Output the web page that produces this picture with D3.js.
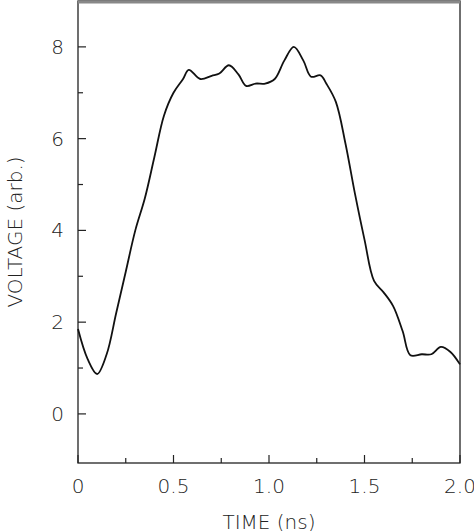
<!DOCTYPE html>
<html><head><meta charset="utf-8">
<script src="https://cdn.jsdelivr.net/npm/d3@7"></script>
<style>body{margin:0;background:#fff}text{font-family:"DejaVu Sans",sans-serif;font-weight:200;fill:#222}</style>
</head><body><svg id="c" width="474" height="531"></svg>
<script>
const timeNs=[0,0.05,0.1,0.15,0.2,0.25,0.3,0.35,0.4,0.45,0.5,0.55,0.58,0.64,0.7,0.74,0.79,0.84,0.88,0.93,0.98,1.03,1.08,1.13,1.18,1.22,1.27,1.3,1.35,1.4,1.45,1.5,1.55,1.6,1.65,1.7,1.74,1.8,1.85,1.9,1.95,2.0];
const voltage=[1.85,1.2,0.87,1.3,2.2,3.1,4.0,4.7,5.6,6.5,7.0,7.3,7.5,7.3,7.37,7.42,7.6,7.4,7.15,7.2,7.2,7.3,7.7,8.0,7.7,7.35,7.38,7.2,6.8,5.9,4.8,3.8,2.9,2.65,2.35,1.8,1.28,1.3,1.3,1.46,1.35,1.08];
const xMajor=[0,0.5,1.0,1.5,2.0], xMinor=[0.25,0.75,1.25,1.75];
const yMajor=[0,2,4,6,8], yMinor=[1,3,5,7];
const svg=d3.select("#c");
const L=78,R=460,T=1,B=463;
const x=d3.scaleLinear().domain([0,2]).range([L,R]);
const y=d3.scaleLinear().domain([-1.07,9.0]).range([B,T]);
svg.append("rect").attr("x",L).attr("y",T).attr("width",R-L).attr("height",B-T).attr("fill","none").attr("stroke","#222").attr("stroke-width",1.3);
svg.append("line").attr("x1",L).attr("x2",R).attr("y1",T+1).attr("y2",T+1).attr("stroke","#888").attr("stroke-width",3);
const g=svg.append("g");
xMajor.forEach(v=>g.append("line").attr("x1",x(v)).attr("x2",x(v)).attr("y1",B).attr("y2",B-8).attr("stroke","#222").attr("stroke-width",1.2));
xMinor.forEach(v=>g.append("line").attr("x1",x(v)).attr("x2",x(v)).attr("y1",B).attr("y2",B-5).attr("stroke","#222").attr("stroke-width",1.2));
yMajor.forEach(v=>g.append("line").attr("x1",L).attr("x2",L+8).attr("y1",y(v)).attr("y2",y(v)).attr("stroke","#222").attr("stroke-width",1.2));
yMinor.forEach(v=>g.append("line").attr("x1",L).attr("x2",L+5).attr("y1",y(v)).attr("y2",y(v)).attr("stroke","#222").attr("stroke-width",1.2));
xMajor.forEach(v=>g.append("text").attr("x",x(v)).attr("y",B+30).attr("text-anchor","middle").attr("font-size",20).text(v===0?"0":v.toFixed(1)));
yMajor.forEach(v=>g.append("text").attr("x",L-14).attr("y",y(v)+7).attr("text-anchor","end").attr("font-size",20).text(v));
svg.append("text").attr("x",269).attr("y",529).attr("text-anchor","middle").attr("font-size",20).text("TIME (ns)");
svg.append("text").attr("transform","translate(22,232) rotate(-90)").attr("text-anchor","middle").attr("font-size",20).text("VOLTAGE (arb.)");
const line=d3.line().x((d,i)=>x(timeNs[i])).y(d=>y(d)).curve(d3.curveCatmullRom.alpha(0.5));
svg.append("path").attr("d",line(voltage)).attr("fill","none").attr("stroke","#111").attr("stroke-width",1.8);
</script></body></html>
